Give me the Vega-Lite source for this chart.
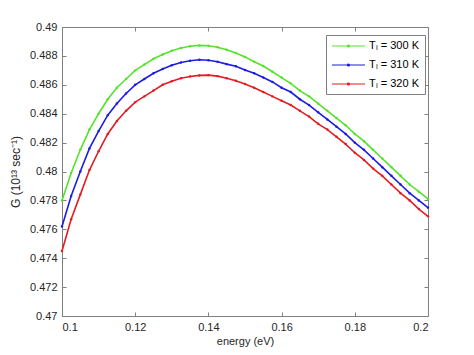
{
  "$schema": "https://vega.github.io/schema/vega-lite/v6.json",
  "width": 366,
  "height": 289,
  "autosize": {"type": "none"},
  "padding": {"left": 62, "top": 27, "right": 46, "bottom": 39},
  "config": {
    "font": "Liberation Sans",
    "view": {"stroke": null},
    "axis": {
      "domainColor": "#808080",
      "tickColor": "#808080",
      "tickSize": -4,
      "labelColor": "#262626",
      "labelFontSize": 11,
      "titleColor": "#262626",
      "titleFontSize": 11,
      "titleFontWeight": "normal",
      "grid": false
    }
  },
  "data": {"values": [
    {"energy":0.1000,"G":0.4780,"T":"T\u2097 = 300 K"},{"energy":0.1025,"G":0.4799,"T":"T\u2097 = 300 K"},{"energy":0.1050,"G":0.4815,"T":"T\u2097 = 300 K"},{"energy":0.1075,"G":0.4829,"T":"T\u2097 = 300 K"},{"energy":0.1100,"G":0.4840,"T":"T\u2097 = 300 K"},{"energy":0.1125,"G":0.4850,"T":"T\u2097 = 300 K"},{"energy":0.1150,"G":0.4858,"T":"T\u2097 = 300 K"},{"energy":0.1175,"G":0.4864,"T":"T\u2097 = 300 K"},{"energy":0.1200,"G":0.4870,"T":"T\u2097 = 300 K"},{"energy":0.1225,"G":0.4874,"T":"T\u2097 = 300 K"},{"energy":0.1250,"G":0.4878,"T":"T\u2097 = 300 K"},{"energy":0.1275,"G":0.4881,"T":"T\u2097 = 300 K"},{"energy":0.1300,"G":0.48835,"T":"T\u2097 = 300 K"},{"energy":0.1325,"G":0.48855,"T":"T\u2097 = 300 K"},{"energy":0.1350,"G":0.48867,"T":"T\u2097 = 300 K"},{"energy":0.1375,"G":0.48873,"T":"T\u2097 = 300 K"},{"energy":0.1400,"G":0.48870,"T":"T\u2097 = 300 K"},{"energy":0.1425,"G":0.48860,"T":"T\u2097 = 300 K"},{"energy":0.1450,"G":0.48843,"T":"T\u2097 = 300 K"},{"energy":0.1475,"G":0.48820,"T":"T\u2097 = 300 K"},{"energy":0.1500,"G":0.48793,"T":"T\u2097 = 300 K"},{"energy":0.1525,"G":0.4876,"T":"T\u2097 = 300 K"},{"energy":0.1550,"G":0.4873,"T":"T\u2097 = 300 K"},{"energy":0.1575,"G":0.4869,"T":"T\u2097 = 300 K"},{"energy":0.1600,"G":0.4865,"T":"T\u2097 = 300 K"},{"energy":0.1625,"G":0.4861,"T":"T\u2097 = 300 K"},{"energy":0.1650,"G":0.4856,"T":"T\u2097 = 300 K"},{"energy":0.1675,"G":0.4852,"T":"T\u2097 = 300 K"},{"energy":0.1700,"G":0.4847,"T":"T\u2097 = 300 K"},{"energy":0.1725,"G":0.4842,"T":"T\u2097 = 300 K"},{"energy":0.1750,"G":0.4837,"T":"T\u2097 = 300 K"},{"energy":0.1775,"G":0.4832,"T":"T\u2097 = 300 K"},{"energy":0.1800,"G":0.4826,"T":"T\u2097 = 300 K"},{"energy":0.1825,"G":0.4821,"T":"T\u2097 = 300 K"},{"energy":0.1850,"G":0.4815,"T":"T\u2097 = 300 K"},{"energy":0.1875,"G":0.4809,"T":"T\u2097 = 300 K"},{"energy":0.1900,"G":0.4803,"T":"T\u2097 = 300 K"},{"energy":0.1925,"G":0.4797,"T":"T\u2097 = 300 K"},{"energy":0.1950,"G":0.4791,"T":"T\u2097 = 300 K"},{"energy":0.1975,"G":0.4786,"T":"T\u2097 = 300 K"},{"energy":0.2000,"G":0.4781,"T":"T\u2097 = 300 K"},
    {"energy":0.1000,"G":0.4762,"T":"T\u2097 = 310 K"},{"energy":0.1025,"G":0.4783,"T":"T\u2097 = 310 K"},{"energy":0.1050,"G":0.4800,"T":"T\u2097 = 310 K"},{"energy":0.1075,"G":0.4816,"T":"T\u2097 = 310 K"},{"energy":0.1100,"G":0.4828,"T":"T\u2097 = 310 K"},{"energy":0.1125,"G":0.4839,"T":"T\u2097 = 310 K"},{"energy":0.1150,"G":0.4847,"T":"T\u2097 = 310 K"},{"energy":0.1175,"G":0.4854,"T":"T\u2097 = 310 K"},{"energy":0.1200,"G":0.4860,"T":"T\u2097 = 310 K"},{"energy":0.1225,"G":0.4864,"T":"T\u2097 = 310 K"},{"energy":0.1250,"G":0.4868,"T":"T\u2097 = 310 K"},{"energy":0.1275,"G":0.4871,"T":"T\u2097 = 310 K"},{"energy":0.1300,"G":0.48735,"T":"T\u2097 = 310 K"},{"energy":0.1325,"G":0.48755,"T":"T\u2097 = 310 K"},{"energy":0.1350,"G":0.48767,"T":"T\u2097 = 310 K"},{"energy":0.1375,"G":0.48773,"T":"T\u2097 = 310 K"},{"energy":0.1400,"G":0.48770,"T":"T\u2097 = 310 K"},{"energy":0.1425,"G":0.48760,"T":"T\u2097 = 310 K"},{"energy":0.1450,"G":0.48743,"T":"T\u2097 = 310 K"},{"energy":0.1475,"G":0.48728,"T":"T\u2097 = 310 K"},{"energy":0.1500,"G":0.48703,"T":"T\u2097 = 310 K"},{"energy":0.1525,"G":0.4868,"T":"T\u2097 = 310 K"},{"energy":0.1550,"G":0.4865,"T":"T\u2097 = 310 K"},{"energy":0.1575,"G":0.4862,"T":"T\u2097 = 310 K"},{"energy":0.1600,"G":0.4858,"T":"T\u2097 = 310 K"},{"energy":0.1625,"G":0.4855,"T":"T\u2097 = 310 K"},{"energy":0.1650,"G":0.4850,"T":"T\u2097 = 310 K"},{"energy":0.1675,"G":0.4846,"T":"T\u2097 = 310 K"},{"energy":0.1700,"G":0.4841,"T":"T\u2097 = 310 K"},{"energy":0.1725,"G":0.4836,"T":"T\u2097 = 310 K"},{"energy":0.1750,"G":0.4831,"T":"T\u2097 = 310 K"},{"energy":0.1775,"G":0.4826,"T":"T\u2097 = 310 K"},{"energy":0.1800,"G":0.4820,"T":"T\u2097 = 310 K"},{"energy":0.1825,"G":0.4815,"T":"T\u2097 = 310 K"},{"energy":0.1850,"G":0.4809,"T":"T\u2097 = 310 K"},{"energy":0.1875,"G":0.4803,"T":"T\u2097 = 310 K"},{"energy":0.1900,"G":0.4797,"T":"T\u2097 = 310 K"},{"energy":0.1925,"G":0.4791,"T":"T\u2097 = 310 K"},{"energy":0.1950,"G":0.4785,"T":"T\u2097 = 310 K"},{"energy":0.1975,"G":0.4780,"T":"T\u2097 = 310 K"},{"energy":0.2000,"G":0.4775,"T":"T\u2097 = 310 K"},
    {"energy":0.1000,"G":0.4745,"T":"T\u2097 = 320 K"},{"energy":0.1025,"G":0.4767,"T":"T\u2097 = 320 K"},{"energy":0.1050,"G":0.4784,"T":"T\u2097 = 320 K"},{"energy":0.1075,"G":0.4801,"T":"T\u2097 = 320 K"},{"energy":0.1100,"G":0.4814,"T":"T\u2097 = 320 K"},{"energy":0.1125,"G":0.4826,"T":"T\u2097 = 320 K"},{"energy":0.1150,"G":0.4835,"T":"T\u2097 = 320 K"},{"energy":0.1175,"G":0.4842,"T":"T\u2097 = 320 K"},{"energy":0.1200,"G":0.4848,"T":"T\u2097 = 320 K"},{"energy":0.1225,"G":0.4852,"T":"T\u2097 = 320 K"},{"energy":0.1250,"G":0.4856,"T":"T\u2097 = 320 K"},{"energy":0.1275,"G":0.4860,"T":"T\u2097 = 320 K"},{"energy":0.1300,"G":0.48625,"T":"T\u2097 = 320 K"},{"energy":0.1325,"G":0.48645,"T":"T\u2097 = 320 K"},{"energy":0.1350,"G":0.48657,"T":"T\u2097 = 320 K"},{"energy":0.1375,"G":0.48665,"T":"T\u2097 = 320 K"},{"energy":0.1400,"G":0.48667,"T":"T\u2097 = 320 K"},{"energy":0.1425,"G":0.48660,"T":"T\u2097 = 320 K"},{"energy":0.1450,"G":0.48645,"T":"T\u2097 = 320 K"},{"energy":0.1475,"G":0.48628,"T":"T\u2097 = 320 K"},{"energy":0.1500,"G":0.48605,"T":"T\u2097 = 320 K"},{"energy":0.1525,"G":0.4858,"T":"T\u2097 = 320 K"},{"energy":0.1550,"G":0.4855,"T":"T\u2097 = 320 K"},{"energy":0.1575,"G":0.4852,"T":"T\u2097 = 320 K"},{"energy":0.1600,"G":0.4849,"T":"T\u2097 = 320 K"},{"energy":0.1625,"G":0.4846,"T":"T\u2097 = 320 K"},{"energy":0.1650,"G":0.4842,"T":"T\u2097 = 320 K"},{"energy":0.1675,"G":0.4838,"T":"T\u2097 = 320 K"},{"energy":0.1700,"G":0.4833,"T":"T\u2097 = 320 K"},{"energy":0.1725,"G":0.4829,"T":"T\u2097 = 320 K"},{"energy":0.1750,"G":0.4824,"T":"T\u2097 = 320 K"},{"energy":0.1775,"G":0.4819,"T":"T\u2097 = 320 K"},{"energy":0.1800,"G":0.4813,"T":"T\u2097 = 320 K"},{"energy":0.1825,"G":0.4808,"T":"T\u2097 = 320 K"},{"energy":0.1850,"G":0.4802,"T":"T\u2097 = 320 K"},{"energy":0.1875,"G":0.4797,"T":"T\u2097 = 320 K"},{"energy":0.1900,"G":0.4791,"T":"T\u2097 = 320 K"},{"energy":0.1925,"G":0.4785,"T":"T\u2097 = 320 K"},{"energy":0.1950,"G":0.4780,"T":"T\u2097 = 320 K"},{"energy":0.1975,"G":0.4774,"T":"T\u2097 = 320 K"},{"energy":0.2000,"G":0.4769,"T":"T\u2097 = 320 K"}
  ]},
  "layer": [
    {
      "mark": {"type": "line", "strokeWidth": 1.6, "point": {"filled": true, "size": 6}},
      "encoding": {
        "x": {"field": "energy", "type": "quantitative", "title": "energy (eV)",
              "scale": {"domain": [0.1, 0.2], "nice": false, "zero": false},
              "axis": {"values": [0.1, 0.12, 0.14, 0.16, 0.18, 0.2], "format": "~g", "labelPadding": 9, "titlePadding": 3}},
        "y": {"field": "G", "type": "quantitative", "title": "G (10\u00b9\u00b3 sec\u207b\u00b9)",
              "scale": {"domain": [0.47, 0.49], "nice": false, "zero": false},
              "axis": {"values": [0.47, 0.472, 0.474, 0.476, 0.478, 0.48, 0.482, 0.484, 0.486, 0.488, 0.49], "format": "~g", "labelPadding": 9, "titlePadding": 7, "titleFontSize": 12}},
        "color": {"field": "T", "type": "nominal",
                  "scale": {"domain": ["T\u2097 = 300 K", "T\u2097 = 310 K", "T\u2097 = 320 K"], "range": ["#55e32a", "#1c1ce3", "#e31c22"]},
                  "legend": {"orient": "none", "legendX": 264, "legendY": 8, "title": null,
                             "symbolType": "M-1,0H5.6M2.1,0A0.2,0.2 0 1 1 2.5,0A0.2,0.2 0 1 1 2.1,0",
                             "symbolSize": 100, "symbolStrokeWidth": 1.2, "labelFontSize": 11, "labelColor": "#000000", "labelOffset": 26,
                             "strokeColor": "#808080", "fillColor": "#ffffff", "padding": 5, "rowPadding": 8}}
      }
    },
    {
      "mark": {"type": "line", "strokeOpacity": 0},
      "encoding": {
        "x": {"field": "energy", "type": "quantitative", "axis": {"orient": "top", "values": [0.1, 0.12, 0.14, 0.16, 0.18, 0.2], "labels": false, "title": null}},
        "y": {"field": "G", "type": "quantitative", "axis": {"orient": "right", "values": [0.47, 0.472, 0.474, 0.476, 0.478, 0.48, 0.482, 0.484, 0.486, 0.488, 0.49], "labels": false, "title": null}},
        "detail": {"field": "T", "type": "nominal"}
      }
    }
  ],
  "resolve": {"axis": {"x": "independent", "y": "independent"}}
}
